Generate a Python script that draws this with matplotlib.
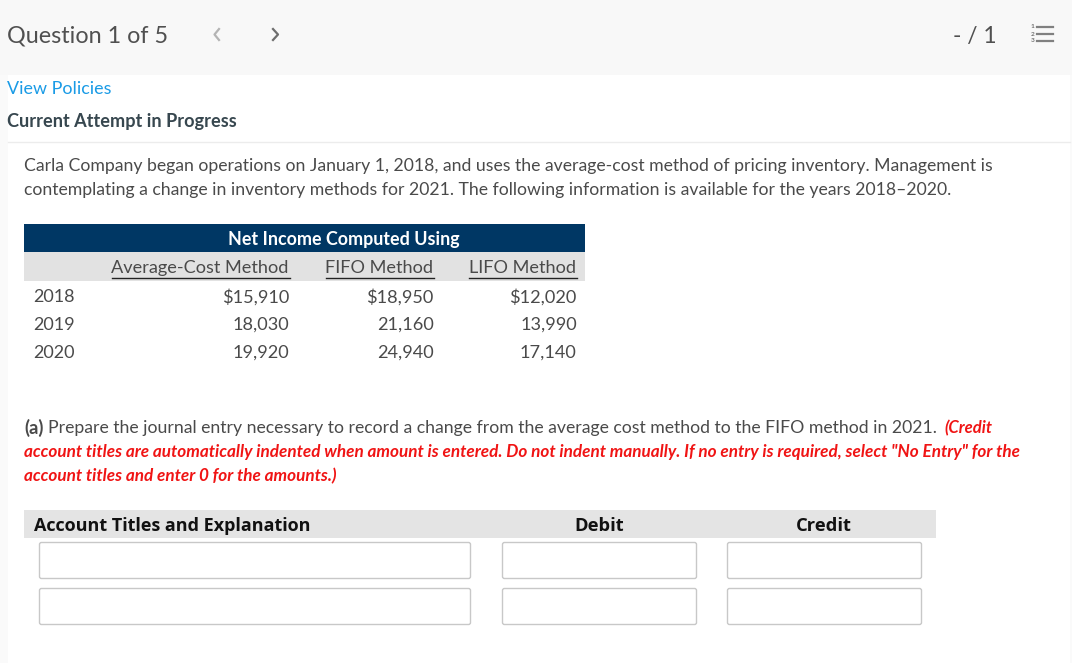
import matplotlib
matplotlib.use("Agg")
import matplotlib.pyplot as plt
from matplotlib.patches import Rectangle, FancyBboxPatch

years = ["2018", "2019", "2020"]
avg_cost = ["$15,910", "18,030", "19,920"]
fifo = ["$18,950", "21,160", "24,940"]
lifo = ["$12,020", "13,990", "17,140"]
methods = ["Average-Cost Method", "FIFO Method", "LIFO Method"]
intro = ["Carla Company began operations on January 1, 2018, and uses the average-cost method of pricing inventory. Management is",
         "contemplating a change in inventory methods for 2021. The following information is available for the years 2018\u20132020."]
part_a = "Prepare the journal entry necessary to record a change from the average cost method to the FIFO method in 2021."
red_lines = ["(Credit",
             "account titles are automatically indented when amount is entered. Do not indent manually. If no entry is required, select \"No Entry\" for the",
             "account titles and enter 0 for the amounts.)"]
entry_headers = ["Account Titles and Explanation", "Debit", "Credit"]

plt.rcParams['font.family'] = ['Lato', 'DejaVu Sans']
fig = plt.figure(figsize=(10.72, 6.63), dpi=100, facecolor="#fafafa")
ax = fig.add_axes([0, 0, 1, 1])
ax.set_xlim(0, 1072)
ax.set_ylim(663, 0)
ax.axis("off")

def px(s):
    return s * 0.72

def T(x, y, s, size, color="#4a4a4a", ha="left", **kw):
    return ax.text(x, y + 1.5, s, fontsize=px(size), color=color, ha=ha, va="center", **kw)

def R(x, y, w, h, c, z=1):
    ax.add_patch(Rectangle((x, y), w, h, fc=c, ec="none", zorder=z))

# page areas
R(0, 0, 1072, 75, "#f8f8f8")
R(8, 75, 1062, 588, "#ffffff")

# top bar
T(7, 35, "Question 1 of 5", 23.4, "#505050")
ax.plot([219, 214.5, 219], [29, 34.5, 40], color="#b4b4b4", lw=1.6)
ax.plot([273, 278, 273], [29, 34.5, 40], color="#6e6e6e", lw=1.6)
T(997, 35, "- / 1", 22.8, "#505050", ha="right")
for y, n in zip([27, 34, 41], "123"):
    ax.plot([1037, 1053], [y, y], color="#808080", lw=1.6)
    T(1032.5, y - 1.5, n, 6.5, "#707070", ha="center", fontweight="bold")

# links
T(7, 87.5, "View Policies", 17.9, "#1a9be6")
T(7, 120.5, "Current Attempt in Progress", 18.2, "#37474f", fontweight="bold")
ax.plot([8, 1070], [141.5, 141.5], color="#ececec", lw=1)

# intro
for y, line in zip([164.5, 188.5], intro):
    T(24.5, y, line, 17.65, "#4a4a4a")

# income table
R(24, 224, 561, 28, "#003764")
R(24, 252, 561, 29, "#e2e2e2")
T(344, 238.5, "Net Income Computed Using", 17.9, "#ffffff", ha="center", fontweight="bold")
rights = [289, 433.5, 576.5]
lefts = [112, 326, 469]
for m, r, l in zip(methods, rights, lefts):
    T(r - 0.5, 266.5, m, 18.1, "#4a4a4a", ha="right")
    ax.plot([l, r + 0.5], [278, 278], color="#222222", lw=1)
for y, yr, a, f, li in zip([295.5, 323.5, 351.5], years, avg_cost, fifo, lifo):
    T(33.5, y, yr, 18, "#4a4a4a")
    for r, v in zip(rights, (a, f, li)):
        T(r + 0.3, y, v, 18.2, "#4a4a4a", ha="right")

# question
T(24, 426.5, "(a)", 18.5, "#4a4a4a", fontweight="bold")
T(48, 426.5, part_a, 17.68, "#4a4a4a")
T(944, 426.5, red_lines[0], 16.6, "#f01414", fontweight="bold", fontstyle="italic")
T(24.5, 450.5, red_lines[1], 17.17, "#f01414", fontweight="bold", fontstyle="italic")
T(24.5, 474.5, red_lines[2], 17.17, "#f01414", fontweight="bold", fontstyle="italic")

# entry table
R(24, 510, 912, 28, "#e4e4e4")
T(33.5, 524.5, entry_headers[0], 18.0, "#111111", fontweight="bold", family=["Open Sans", "DejaVu Sans"])
T(599, 524.5, entry_headers[1], 18.4, "#111111", ha="center", fontweight="bold", family=["Open Sans", "DejaVu Sans"])
T(824, 524.5, entry_headers[2], 18.4, "#111111", ha="center", fontweight="bold", family=["Open Sans", "DejaVu Sans"])
for y in (542.5, 588.5):
    for x, w in ((39.5, 431), (502.5, 194), (727.5, 194)):
        ax.add_patch(FancyBboxPatch((x, y), w, 36, boxstyle="round,pad=0,rounding_size=2",
                                    fc="#ffffff", ec="#c8c8c8", lw=1))

fig.savefig("out.png", dpi=100, facecolor=fig.get_facecolor())
